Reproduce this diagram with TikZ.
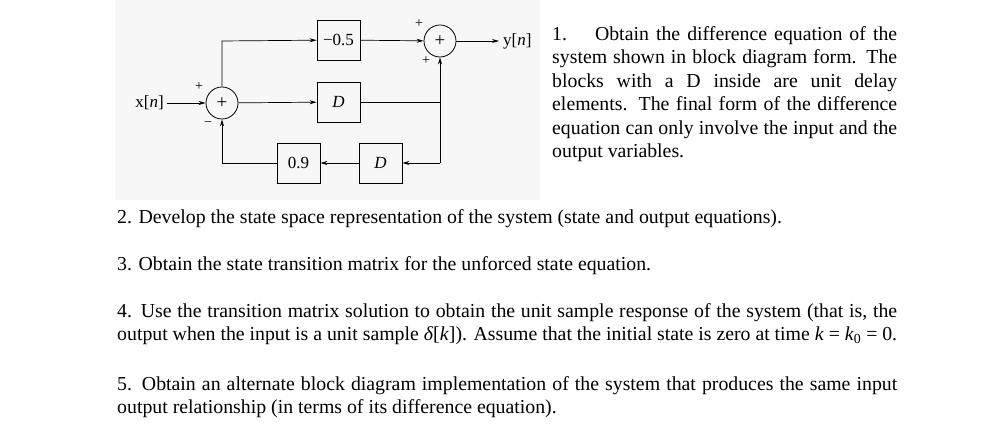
\documentclass[tikz,border=0pt]{standalone}
\usepackage{fontspec}
\setmainfont{Liberation Serif}
\usetikzlibrary{arrows.meta}
\setlength{\parindent}{0pt}
\begin{document}
\begin{tikzpicture}[x=1pt,y=-1pt,
  blk/.style={draw,line width=0.8pt,minimum width=43pt,minimum height=40pt,inner sep=0pt,font=\fontsize{17}{17}\selectfont},
  sumn/.style={draw,circle,line width=0.8pt,minimum size=32pt,inner sep=0pt,font=\fontsize{19}{19}\selectfont},
  sig/.style={line width=0.7pt},
  arr/.style={sig,-{Stealth[length=7pt,width=4pt]}},
  lab/.style={font=\fontsize{14}{14}\selectfont,inner sep=0pt},
  txt/.style={anchor=north west,inner sep=0pt,font=\fontsize{19.8}{23.5}\selectfont}]
\useasboundingbox (0,0) rectangle (1002,438);
\fill[black!3] (115,0) rectangle (540,200);
\node[sumn] (s1) at (222,103) {+};
\node[sumn] (s2) at (440,41) {+};
\node[blk] (g) at (338.5,40) {\textminus0.5};
\node[blk] (d1) at (338.5,102) {\textit{D}};
\node[blk] (g9) at (298.5,163) {0.9};
\node[blk] (d2) at (380.5,163) {\textit{D}};
\node[anchor=east,inner sep=0pt,font=\fontsize{17}{17}\selectfont] (x) at (164,103) {x[\textit{n}]};
\node[anchor=west,inner sep=0pt,font=\fontsize{17}{17}\selectfont] (y) at (503,41) {y[\textit{n}]};
\coordinate (tl) at (222,41);
\coordinate (rm) at (440,102);
\coordinate (rb) at (440,163);
\coordinate (lb) at (222,163);
\draw[arr] ([xshift=3pt]x.east) -- (s1);
\draw[arr] (s1.north) -- (tl) -- (g);
\draw[arr] (g) -- (s2);
\draw[arr] (s2) -- ([xshift=-4pt]y.west);
\draw[arr] (s1) -- (d1);
\draw[sig] (d1) -- (rm);
\draw[arr] (rb) -- (s2.south);
\draw[arr] (rb) -- (d2);
\draw[arr] (d2) -- (g9);
\draw[arr] (g9.west) -- (lb) -- (s1.south);
\node[lab] at (199,87) {+};
\node[lab] at (208,124) {\textminus};
\node[lab] at (419,24) {+};
\node[lab] at (426,61) {+};
\node[txt,text width=345pt,align=justify] (p1) at (552,26) {1.\hspace{28pt}Obtain the difference equation of the\linebreak system shown in block diagram form. The\linebreak blocks with a D inside are unit delay\linebreak elements. The final form of the difference\linebreak equation can only involve the input and the\linebreak output variables.};
\node[txt] (p2) at (117,209) {2. Develop the state space representation of the system (state and output equations).};
\node[txt] (p3) at (117,256) {3. Obtain the state transition matrix for the unforced state equation.};
\node[txt,text width=780pt,align=justify] (p4) at (117,303) {4. Use the transition matrix solution to obtain the unit sample response of the system (that is, the\linebreak output when the input is a unit sample \textit{δ}[\textit{k}]). Assume that the initial state is zero at time \textit{k} = \textit{k}\textsubscript{0} = 0.};
\node[txt,text width=780pt,align=justify] (p5) at (117,376) {5. Obtain an alternate block diagram implementation of the system that produces the same input\linebreak output relationship (in terms of its difference equation).};
\end{tikzpicture}
\end{document}
